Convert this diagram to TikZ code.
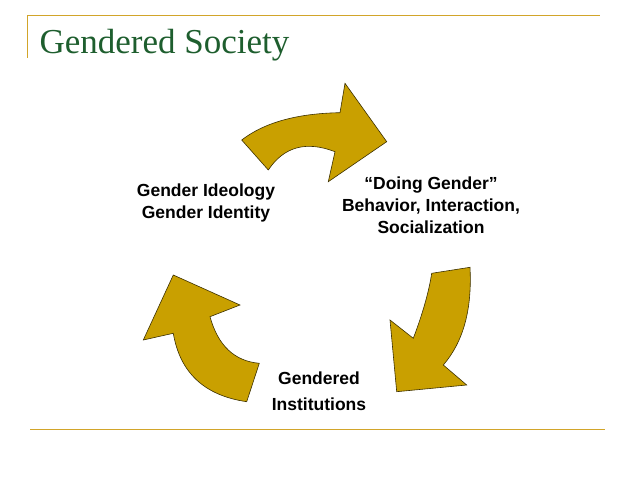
\documentclass[tikz,border=0pt]{standalone}
\usepackage{fontspec}
\setmainfont{Liberation Serif}
\newfontfamily\arialf{Liberation Sans}
\definecolor{gold}{HTML}{C9A000}
\definecolor{goldline}{HTML}{D2A52A}
\definecolor{titlegreen}{HTML}{1E5E2E}
\begin{document}
\begin{tikzpicture}[x=1pt,y=-1pt,
  arr/.style={fill=gold,draw=black!70!gold,line width=0.6pt,line join=miter},
  lbl/.style={font=\arialf\bfseries\fontsize{17.5}{22}\selectfont,align=center,text=black},
  rule/.style={draw=goldline,line width=1pt}]
\useasboundingbox (0,0) rectangle (638,478);
\coordinate (tl) at (27,58);
\coordinate (tc) at (27,16);
\coordinate (tr) at (600,16);
\coordinate (bl) at (30,430);
\coordinate (br) at (605,430);
\draw[rule] (tl) -- (tc) -- (tr);
\draw[rule] (bl) -- (br);
\node[anchor=west,text=titlegreen,font=\fontsize{35}{40}\selectfont] (title) at (36,45) {Gendered Society};
% top arrow
\draw[arr] (241.7,140) .. controls (264.4,122.5) and (297.2,113.4) .. (340,112.7) -- (345,83.3) -- (386.7,141.7) -- (328.3,181.7) -- (335,151.7) .. controls (306.1,140.6) and (283.9,146.7) .. (268.3,170) -- cycle;
% right arrow
\draw[arr] (431.7,273.3) -- (470,267.3) .. controls (472.2,309.4) and (463.3,341.9) .. (443.3,365) -- (466.7,385) -- (396.7,391.7) -- (390,320) -- (413.3,338.3) .. controls (422.8,313.3) and (428.9,291.6) .. cycle;
% left arrow
\draw[arr] (173.3,275) -- (240,305) -- (210,316.7) .. controls (218,345.6) and (234.4,361.1) .. (259.3,363.3) -- (246.7,401.7) .. controls (204.5,395.6) and (180,372.8) .. (173.3,333.3) -- (143.3,340) -- cycle;
\node[lbl] (ideo) at (206,203) {Gender Ideology\\Gender Identity};
\node[lbl] (doing) at (431,205) {“Doing Gender”\\Behavior, Interaction,\\Socialization};
\node[lbl,font=\arialf\bfseries\fontsize{17.5}{26}\selectfont] (inst) at (319,391) {Gendered\\Institutions};
\end{tikzpicture}
\end{document}
